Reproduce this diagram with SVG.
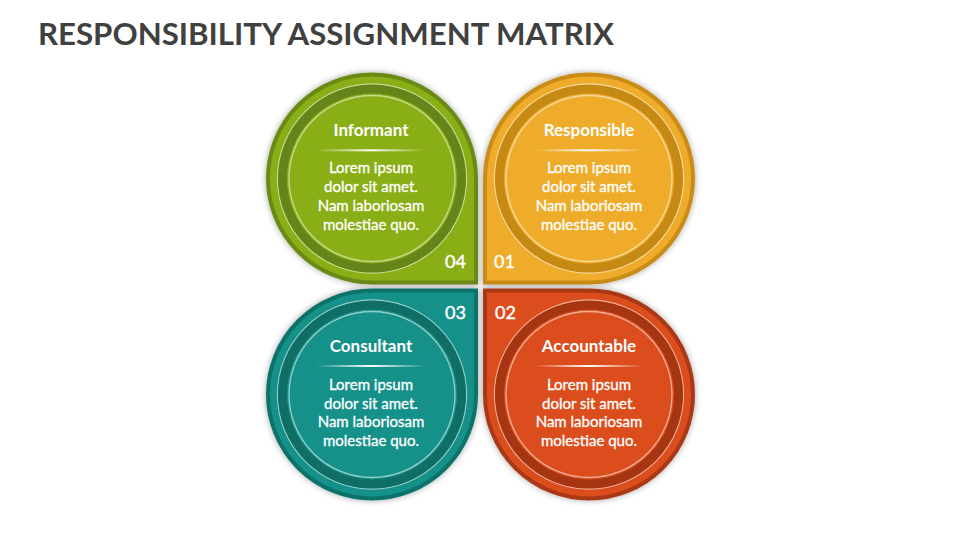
<svg xmlns="http://www.w3.org/2000/svg" width="960" height="540" viewBox="0 0 960 540">
  <defs>
    <filter id="shadow" x="-10%" y="-10%" width="120%" height="120%">
      <feDropShadow dx="0" dy="0" stdDeviation="3" flood-color="#000" flood-opacity="0.35"/>
    </filter>
    <linearGradient id="sep" x1="0" y1="0" x2="1" y2="0">
      <stop offset="0" stop-color="#fff" stop-opacity="0"/>
      <stop offset="0.5" stop-color="#fff" stop-opacity="1"/>
      <stop offset="1" stop-color="#fff" stop-opacity="0"/>
    </linearGradient>
    <style>
      .title { font-family: Lato, "Open Sans", "Liberation Sans", sans-serif; font-weight: bold; font-size: 31px; fill: #404040; }
      .head { font-family: Lato, "Open Sans", "Liberation Sans", sans-serif; font-weight: bold; font-size: 17px; fill: #fff; text-anchor: middle; }
      .body { font-family: Lato, "Open Sans", "Liberation Sans", sans-serif; font-size: 15px; fill: #fff; stroke: #fff; stroke-width: 0.3; text-anchor: middle; }
      .num { font-family: Lato, "Open Sans", "Liberation Sans", sans-serif; font-size: 18px; fill: #fff; stroke: #fff; stroke-width: 0.4; }
      .lite { fill: none; stroke: #fff; stroke-opacity: 0.55; stroke-width: 1.3; }
      .ring { fill: none; stroke-width: 9; }
      .drop { stroke-width: 4; stroke-linejoin: miter; filter: url(#shadow); }
    </style>
  </defs>
  <rect width="960" height="540" fill="#fff"/>
  <text class="title" x="38" y="45" textLength="576" lengthAdjust="spacingAndGlyphs">RESPONSIBILITY ASSIGNMENT MATRIX</text>

  <g id="connectors"/>

  <g id="informant">
    <path class="drop" d="M 476 282.5 L 372 282.5 A 104 104 0 1 1 476 178.5 Z" fill="#8AAE17" stroke="#6B8A12"/>
    <circle class="lite" cx="372" cy="178.5" r="94.5"/>
    <circle class="ring" cx="372" cy="178.5" r="89.5" stroke="#65841A"/>
    <circle class="lite" cx="372" cy="178.5" r="83"/>
    <text class="head" x="371" y="136">Informant</text>
    <rect x="316" y="149.3" width="110" height="2" fill="url(#sep)"/>
    <text class="body" x="371" y="173">Lorem ipsum</text>
    <text class="body" x="371" y="192">dolor sit amet.</text>
    <text class="body" x="371" y="210.5">Nam laboriosam</text>
    <text class="body" x="371" y="229.5">molestiae quo.</text>
    <text class="num" x="445" y="268">04</text>
  </g>

  <g id="responsible">
    <path class="drop" d="M 485 282.5 L 485 178.5 A 104 104 0 1 1 589 282.5 Z" fill="#EEAC2C" stroke="#C98C17"/>
    <circle class="lite" cx="589" cy="178.5" r="94.5"/>
    <circle class="ring" cx="589" cy="178.5" r="89.5" stroke="#C68A14"/>
    <circle class="lite" cx="589" cy="178.5" r="83"/>
    <text class="head" x="589" y="136">Responsible</text>
    <rect x="534" y="149.3" width="110" height="2" fill="url(#sep)"/>
    <text class="body" x="589" y="173">Lorem ipsum</text>
    <text class="body" x="589" y="192">dolor sit amet.</text>
    <text class="body" x="589" y="210.5">Nam laboriosam</text>
    <text class="body" x="589" y="229.5">molestiae quo.</text>
    <text class="num" x="494" y="268">01</text>
  </g>

  <g id="consultant">
    <path class="drop" d="M 476 290.5 L 476 394.5 A 104 104 0 1 1 372 290.5 Z" fill="#13918A" stroke="#0F726B"/>
    <circle class="lite" cx="372" cy="394.5" r="94.5"/>
    <circle class="ring" cx="372" cy="394.5" r="89.5" stroke="#0F6E66"/>
    <circle class="lite" cx="372" cy="394.5" r="83"/>
    <text class="head" x="371" y="352">Consultant</text>
    <rect x="316" y="365" width="110" height="2" fill="url(#sep)"/>
    <text class="body" x="371" y="390">Lorem ipsum</text>
    <text class="body" x="371" y="408.5">dolor sit amet.</text>
    <text class="body" x="371" y="427">Nam laboriosam</text>
    <text class="body" x="371" y="446">molestiae quo.</text>
    <text class="num" x="445" y="319">03</text>
  </g>

  <g id="accountable">
    <path class="drop" d="M 485 290.5 L 589 290.5 A 104 104 0 1 1 485 394.5 Z" fill="#DB4E1C" stroke="#A93814"/>
    <circle class="lite" cx="589" cy="394.5" r="94.5"/>
    <circle class="ring" cx="589" cy="394.5" r="89.5" stroke="#A63612"/>
    <circle class="lite" cx="589" cy="394.5" r="83"/>
    <text class="head" x="589" y="352">Accountable</text>
    <rect x="534" y="365" width="110" height="2" fill="url(#sep)"/>
    <text class="body" x="589" y="390">Lorem ipsum</text>
    <text class="body" x="589" y="408.5">dolor sit amet.</text>
    <text class="body" x="589" y="427">Nam laboriosam</text>
    <text class="body" x="589" y="446">molestiae quo.</text>
    <text class="num" x="495" y="319">02</text>
  </g>
</svg>
